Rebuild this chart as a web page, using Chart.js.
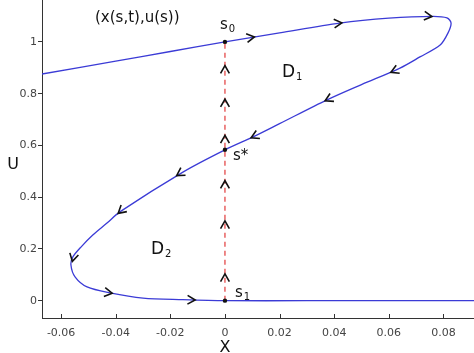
<!DOCTYPE html>
<html>
<head>
<meta charset="utf-8">
<script src="https://cdn.jsdelivr.net/npm/chart.js@4/dist/chart.umd.min.js"></script>
<style>
    html, body { margin: 0; padding: 0; background: #fff; }
    #wrap { width: 474px; height: 353px; }
</style>
</head>
<body>
<div id="wrap"><canvas id="chart"></canvas></div>
<script>
// curve, in order of s
const curveX = [-0.067, -0.04, -0.02, 0, 0.02, 0.042, 0.06, 0.0762, 0.0813, 0.0828, 0.0817, 0.0788, 0.0714, 0.0641, 0.05, 0.0374, 0.02, 0.0103, 0,
    -0.0154, -0.0385, -0.0432, -0.0484, -0.0524, -0.0557, -0.0564, -0.0549, -0.0505, -0.0421, -0.030, -0.0154, 0, 0.03, 0.092];
const curveU = [0.876, 0.926, 0.963, 1.0, 1.035, 1.073, 1.092, 1.099, 1.093, 1.073, 1.035, 0.988, 0.942, 0.899, 0.835, 0.776, 0.684, 0.633, 0.583,
    0.497, 0.343, 0.300, 0.254, 0.211, 0.169, 0.138, 0.092, 0.053, 0.030, 0.010, 0.004, 0, 0, 0];

// direction chevrons sitting on the curve
const arrowX = [0.01, 0.042, 0.075, 0.0615, 0.0374, 0.0103, -0.017, -0.0385, -0.0557, -0.0421, -0.0117];
const arrowU = [1.018, 1.073, 1.099, 0.886, 0.776, 0.633, 0.488, 0.343, 0.160, 0.030, 0.003];

// chevrons on the dashed segment s1 -> s0
const riseU = [0.90, 0.77, 0.63, 0.455, 0.30, 0.095];

const markX = [0, 0, 0];
const markU = [1.0, 0.583, 0];

const xTicks = [-0.06, -0.04, -0.02, 0, 0.02, 0.04, 0.06, 0.08];
const uTicks = [0, 0.2, 0.4, 0.6, 0.8, 1];

const BLUE = '#3b3bd6';
const INK = '#111';

function nearestDir(x, y, xs, ys) {
    let best = 0, bd = Infinity;
    for (let i = 0; i < xs.length - 1; i++) {
        const d = (xs[i] - x) ** 2 + (ys[i] - y) ** 2;
        if (d < bd) { bd = d; best = i; }
    }
    return best;
}

function chevron(ctx, px, py, angle, size) {
    ctx.save();
    ctx.translate(px, py);
    ctx.rotate(angle);
    ctx.beginPath();
    ctx.moveTo(-size, -size * 0.8);
    ctx.lineTo(size * 0.4, 0);
    ctx.lineTo(-size, size * 0.8);
    ctx.stroke();
    ctx.restore();
}

function sub(ctx, base, idx, x, y, bigFont, smallFont, drop) {
    ctx.font = bigFont;
    ctx.fillText(base, x, y);
    const w = ctx.measureText(base).width;
    ctx.font = smallFont;
    ctx.fillText(idx, x + w + 1, y + drop);
}

const decorations = {
    id: 'decorations',
    afterDatasetsDraw(chart) {
        const { ctx, scales: { x, y } } = chart;
        ctx.save();

        // inside tick marks on the x axis
        ctx.strokeStyle = '#333';
        ctx.lineWidth = 1;
        xTicks.forEach((v) => {
            const px = Math.round(x.getPixelForValue(v)) + 0.5;
            ctx.beginPath();
            ctx.moveTo(px, y.bottom);
            ctx.lineTo(px, y.bottom - 4);
            ctx.stroke();
        });

        // arrows along the curve
        const pts = curveX.map((v, i) => [x.getPixelForValue(v), y.getPixelForValue(curveU[i])]);
        ctx.strokeStyle = INK;
        ctx.lineWidth = 1.6;
        arrowX.forEach((v, i) => {
            const px = x.getPixelForValue(v);
            const py = y.getPixelForValue(arrowU[i]);
            const k = nearestDir(px, py, pts.map((p) => p[0]), pts.map((p) => p[1]));
            let a = pts[k], b = pts[k + 1];
            if (Math.hypot(b[0] - a[0], b[1] - a[1]) < 1) b = pts[k + 2];
            const ang = Math.atan2(b[1] - a[1], b[0] - a[0]);
            chevron(ctx, px, py, ang, 5.5);
        });

        // chevrons pointing up along x = 0
        const x0 = x.getPixelForValue(0);
        riseU.forEach((u) => {
            chevron(ctx, x0, y.getPixelForValue(u), -Math.PI / 2, 5.5);
        });

        // labels
        ctx.fillStyle = INK;
        ctx.textBaseline = 'alphabetic';
        ctx.font = '15px "DejaVu Sans"';
        ctx.fillText('(x(s,t),u(s))', 95, 22);
        sub(ctx, 's', '0', x0 - 5, 29, '15px "DejaVu Sans"', '10px "DejaVu Sans"', 3);
        sub(ctx, 'D', '1', 282, 77, '17px "DejaVu Sans"', '10px "DejaVu Sans"', 3);
        ctx.font = '15px "DejaVu Sans"';
        ctx.fillText('s*', x0 + 8, 160);
        sub(ctx, 'D', '2', 151, 254, '17px "DejaVu Sans"', '10px "DejaVu Sans"', 3);
        sub(ctx, 's', '1', x0 + 10, 297, '15px "DejaVu Sans"', '10px "DejaVu Sans"', 3);

        ctx.font = '16px "DejaVu Sans"';
        ctx.textAlign = 'center';
        ctx.fillText('U', 13, 169);
        ctx.fillText('X', x0, 352);
        ctx.restore();
    },
};

new Chart(document.getElementById('chart'), {
    type: 'scatter',
    data: {
        datasets: [
            {
                data: markX.map((v, i) => ({ x: v, y: markU[i] })),
                showLine: false,
                pointRadius: 2.2,
                pointHoverRadius: 0,
                pointBackgroundColor: INK,
                pointBorderWidth: 0,
            },
            {
                data: [{ x: 0, y: markU[2] }, { x: 0, y: markU[0] }],
                showLine: true,
                borderColor: '#e23a3a',
                borderWidth: 1.2,
                borderDash: [5, 4],
                pointRadius: 0,
                pointHoverRadius: 0,
            },
            {
                data: curveX.map((v, i) => ({ x: v, y: curveU[i] })),
                showLine: true,
                borderColor: BLUE,
                borderWidth: 1.3,
                tension: 0.3,
                pointRadius: 0,
                pointHoverRadius: 0,
            },
        ],
    },
    options: {
        responsive: true,
        maintainAspectRatio: false,
        animation: false,
        layout: { padding: 0, autoPadding: false },
        plugins: {
            legend: { display: false },
            tooltip: { enabled: false },
        },
        scales: {
            x: {
                type: 'linear',
                min: -0.067,
                max: 0.0912,
                afterBuildTicks(scale) {
                    scale.ticks = xTicks.map((v) => ({ value: v }));
                },
                afterFit(scale) {
                    scale.height = 35;
                    scale.paddingLeft = 0;
                    scale.paddingRight = 0;
                },
                grid: { display: true, drawOnChartArea: false, drawTicks: false },
                border: { display: true, color: '#333', width: 1 },
                ticks: {
                    padding: 9,
                    color: '#444',
                    font: { family: 'DejaVu Sans', size: 11 },
                    maxRotation: 0,
                    callback: (v) => String(Math.round(v * 100) / 100),
                },
            },
            y: {
                type: 'linear',
                min: -0.067,
                max: 1.162,
                afterBuildTicks(scale) {
                    scale.ticks = uTicks.map((v) => ({ value: v }));
                },
                afterFit(scale) {
                    scale.width = 42;
                    scale.paddingTop = 0;
                    scale.paddingBottom = 0;
                },
                grid: { display: true, drawOnChartArea: false, tickLength: 4, color: '#333' },
                border: { display: true, color: '#333', width: 1 },
                ticks: {
                    padding: 1,
                    color: '#444',
                    font: { family: 'DejaVu Sans', size: 11 },
                    callback: (v) => String(Math.round(v * 10) / 10),
                },
            },
        },
    },
    plugins: [decorations],
});
</script>
</body>
</html>
